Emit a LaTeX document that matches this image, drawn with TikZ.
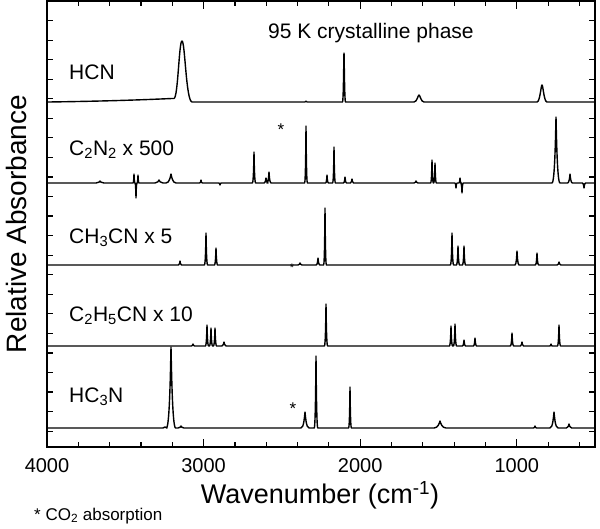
\documentclass[tikz,border=0pt]{standalone}
\usepackage{fontspec}
\setmainfont{Liberation Sans}
\begin{document}
\begin{tikzpicture}[x=1pt,y=-1pt,
  spec/.style={line width=1.4pt,line join=round},
  lab/.style={anchor=west,inner sep=0,font=\fontsize{21}{23}\selectfont}]
\useasboundingbox (0,0) rectangle (600,528);
\coordinate (tl) at (47,1);
\coordinate (br) at (595,447);
\def\spectrum#1#2{\draw[spec] (48,#1) \foreach \c/\h/\w in {#2}{
  -- ({\c-2*\w},#1) .. controls ({\c-0.6*\w},#1) and ({\c-0.2*\w},{#1-0.75*\h}) .. ({\c},{#1-\h})
  .. controls ({\c+0.2*\w},{#1-0.75*\h}) and ({\c+0.6*\w},#1) .. ({\c+2*\w},#1)} -- (594,#1);}
% ticks
\foreach \k in {1,...,22}{
  \draw[line width=1.2pt] (47,{1+19.55*\k}) -- ++(6,0);
  \draw[line width=1.2pt] (595,{1+19.55*\k}) -- ++(-6,0);}
\foreach \w in {3800,3600,...,600}{
  \draw[line width=1.2pt] ({47+(4000-\w)*0.1566},447) -- ++(0,-5);
  \draw[line width=1.2pt] ({47+(4000-\w)*0.1566},1) -- ++(0,5);}
\foreach \w in {3000,2000,1000}{
  \draw[line width=1.2pt] ({47+(4000-\w)*0.1566},447) -- ++(0,-8);
  \draw[line width=1.2pt] ({47+(4000-\w)*0.1566},1) -- ++(0,8);}
\draw[line width=1.5pt] (tl) rectangle (br);
% spectra
\draw[spec] (48,102) .. controls (120,101) and (160,99) .. (172,98.5) -- (174,98.5) .. controls (178,98) and (179,41) .. (182,41) .. controls (185,41) and (186,101) .. (192,102)
  -- (305,102) -- (306,101) -- (307,102) -- (342.5,102) .. controls (343.5,102) and (343.8,53) .. (344,53) .. controls (344.2,53) and (344.5,102) .. (345.5,102)
  -- (414,102) .. controls (417,102) and (418,95) .. (419,95) .. controls (420,95) and (421,102) .. (424,102)
  -- (537,102) .. controls (540,102) and (541,85) .. (542,85) .. controls (543,85) and (544,102) .. (547,102) -- (594,102);
\spectrum{183}{100/2/2, 134/9/0.5, 136/-15/0.5, 138/8/0.5, 159/3/2, 171/9/2.5, 201/3/0.6, 220/-2/0.6, 254/31/0.8, 266/5/1, 269/11/1, 306/57/0.7, 327/8/0.7, 334/36/0.7, 345/6/0.8, 352/4/0.8, 416/2/1, 432/23/0.7, 435/20/0.7, 456/-5/0.6, 460/5/0.6, 462/-10/0.6, 556/66/2, 570/9/1.2, 584/-5/0.8}
\spectrum{265}{180/4/0.7, 206/32/0.8, 216/17/0.8, 300/2/1, 318/7/0.9, 325/57/0.7, 452/32/0.8, 458/19/0.8, 464/19/0.8, 517/14/1, 537/12/0.8, 559/3/0.9}
\spectrum{346}{193/2/0.8, 207/21/0.8, 211/18/0.8, 215/18/0.8, 224/4/1, 326/42/0.8, 451/20/0.8, 455/22/0.8, 464/6/0.8, 475/8/0.8, 512/13/0.8, 522/4/0.8, 551/2/0.6, 559/21/0.8}
\spectrum{428}{165/1/1, 171/81/2.3, 181/2/1.5, 305/16/2, 316/72/0.9, 350/41/0.7, 440/7/3, 535/2/0.7, 554/16/2, 569/4/1.3}
% labels
\node[lab] (t1) at (69,72) {HCN};
\node[lab] (t2) at (69,150) {C\textsubscript{2}N\textsubscript{2} x 500};
\node[lab] (t3) at (69,238) {CH\textsubscript{3}CN x 5};
\node[lab] (t4) at (69,316) {C\textsubscript{2}H\textsubscript{5}CN x 10};
\node[lab] (t5) at (69,397) {HC\textsubscript{3}N};
\node[lab] (title) at (268,33) {95 K crystalline phase};
\node[inner sep=0,font=\fontsize{17}{17}\selectfont] (s1) at (281,130) {*};
\node[inner sep=0,font=\fontsize{11}{11}\selectfont] (s2) at (292,268) {*};
\node[inner sep=0,font=\fontsize{17}{17}\selectfont] (s3) at (293,409) {*};
\foreach \w in {4000,3000,2000,1000}{
  \node[inner sep=0,font=\fontsize{20}{22}\selectfont] (x\w) at ({47+(4000-\w)*0.1566},466) {\w};}
\node[inner sep=0,font=\fontsize{27}{29}\selectfont] (xl) at (320,495) {Wavenumber (cm\textsuperscript{-1})};
\node[inner sep=0,rotate=90,font=\fontsize{28}{30}\selectfont] (yl) at (16,224) {Relative Absorbance};
\node[anchor=west,inner sep=0,font=\fontsize{17}{19}\selectfont] (note) at (34,516) {* CO\textsubscript{2} absorption};
\end{tikzpicture}
\end{document}
